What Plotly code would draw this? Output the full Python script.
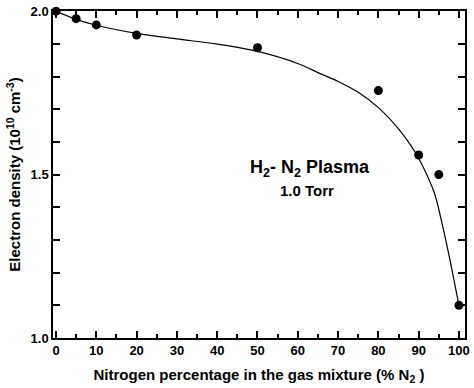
import plotly.graph_objects as go

# measured data points
n2_pct = [0, 5, 10, 20, 50, 80, 90, 95, 100]
density = [2.0, 1.977, 1.958, 1.927, 1.888, 1.757, 1.56, 1.50, 1.10]

# fitted curve
fit_x = [0, 5, 10, 20, 30, 40, 50, 60, 65, 70, 75, 80, 85, 88, 90, 92, 94, 96, 98, 100]
fit_y = [2.0, 1.975, 1.957, 1.932, 1.915, 1.899, 1.877, 1.840, 1.812, 1.785, 1.752, 1.705,
         1.640, 1.590, 1.550, 1.500, 1.440, 1.340, 1.225, 1.100]

x_ticks = [0, 10, 20, 30, 40, 50, 60, 70, 80, 90, 100]
x_tick_text = ["0", "10", "20", "30", "40", "50", "60", "70", "80", "90", "100"]
y_ticks = [1.0, 1.5, 2.0]
y_tick_text = ["1.0", "1.5", "2.0"]

font_family = "Liberation Sans, Arial, sans-serif"

fig = go.Figure()
fig.add_trace(go.Scatter(x=fit_x, y=fit_y, mode="lines",
                         line=dict(color="black", width=1.2, shape="spline", smoothing=0.8),
                         hoverinfo="skip", showlegend=False))
fig.add_trace(go.Scatter(x=n2_pct, y=density, mode="markers",
                         marker=dict(color="black", size=9),
                         cliponaxis=False, showlegend=False))

axis_common = dict(showgrid=False, zeroline=False, showline=True, linecolor="black", linewidth=1.5,
                   mirror="allticks", ticks="inside", tickcolor="black", tickwidth=1.5,
                   ticklabeloverflow="allow",
                   tickfont=dict(family=font_family, size=13, color="black", weight="bold"))

fig.update_layout(
    width=474, height=388,
    margin=dict(l=53, r=4, t=6, b=50),
    paper_bgcolor="white", plot_bgcolor="white",
    xaxis=dict(range=[-0.75, 101.5], tickvals=x_ticks,
               ticktext=["<b>%s</b>" % t for t in x_tick_text], ticklen=7,
               minor=dict(dtick=5, tick0=0, ticks="inside", ticklen=4, tickcolor="black", tickwidth=1.5),
               title=dict(text="<b>Nitrogen percentage in the gas mixture (% N<sub>2</sub> )</b>",
                          font=dict(family=font_family, size=15, color="black", weight="bold"), standoff=12),
               **axis_common),
    yaxis=dict(range=[1.0, 2.0005], tickvals=y_ticks,
               ticktext=["<b>%s</b>" % t for t in y_tick_text], ticklen=7,
               minor=dict(dtick=0.1, tick0=1.0, ticks="inside", ticklen=7, tickcolor="black", tickwidth=1.5),
               title=dict(text="<b>Electron density (10<sup>10</sup> cm<sup>-3</sup>)</b>",
                          font=dict(family=font_family, size=15, color="black", weight="bold"), standoff=6),
               **axis_common),
)
fig.add_annotation(x=0.623, y=0.517, xref="paper", yref="paper",
                   text="<b>H<sub>2</sub>- N<sub>2</sub> Plasma</b>",
                   showarrow=False, font=dict(family=font_family, size=18, color="black", weight="bold"))
fig.add_annotation(x=0.617, y=0.45, xref="paper", yref="paper",
                   text="<b>1.0 Torr</b>",
                   showarrow=False, font=dict(family=font_family, size=15, color="black", weight="bold"))

fig.write_html("out.html", config={"displayModeBar": False})

# remove the default page margin so the figure sits at the window's corner
with open("out.html", "r", encoding="utf-8") as f:
    html = f.read()
html = html.replace("<head>", "<head><style>html,body{margin:0;padding:0;overflow:hidden;}</style>", 1)
with open("out.html", "w", encoding="utf-8") as f:
    f.write(html)
